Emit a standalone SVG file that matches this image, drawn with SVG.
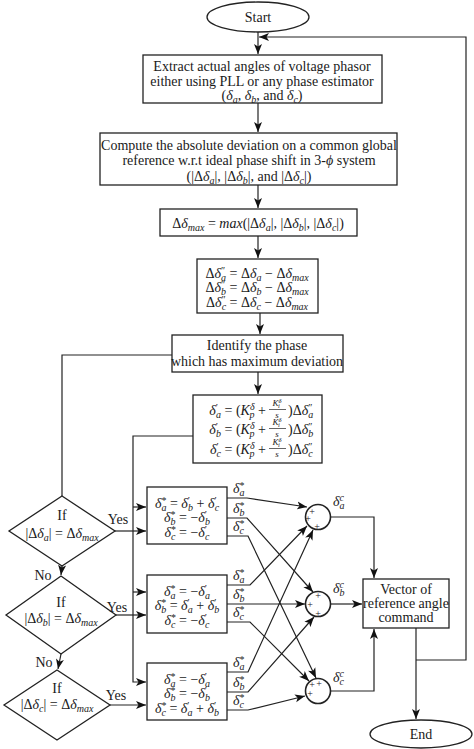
<svg xmlns="http://www.w3.org/2000/svg" width="474" height="749" viewBox="0 0 474 749">
<style>
text{font-family:"Liberation Serif","Times New Roman",serif;font-size:14px;fill:#1a1a1a}
.c{text-anchor:middle}
.i{font-style:italic}
.s{font-size:10px}
.f{font-size:9px}
.pl{font-size:10px;text-anchor:middle}
.box{fill:#fff;stroke:#222;stroke-width:1.3}
.sum{fill:#fff;stroke:#222;stroke-width:1.6}
.ln{fill:none;stroke:#222;stroke-width:1.2}
.bar{stroke:#222;stroke-width:0.7}
</style>
<defs>
<marker id="ah" markerWidth="12" markerHeight="10" refX="10" refY="5" orient="auto" markerUnits="userSpaceOnUse">
<path d="M0,1 L10,5 L0,9 L2.5,5 z" fill="#111"/>
</marker>
</defs>
<rect width="474" height="749" fill="#fff"/>

<g id="connectors">
<polyline class="ln" points="258,32 258,54" marker-end="url(#ah)"/>
<polyline class="ln" points="416,660 466,660 466,37 259,37" marker-end="url(#ah)"/>
<polyline class="ln" points="258,103 258,132" marker-end="url(#ah)"/>
<polyline class="ln" points="258,185 258,208" marker-end="url(#ah)"/>
<polyline class="ln" points="258,236 258,258" marker-end="url(#ah)"/>
<polyline class="ln" points="260,313 260,334" marker-end="url(#ah)"/>
<polyline class="ln" points="258,372 258,394" marker-end="url(#ah)"/>
<polyline class="ln" points="172,355 62,355 62,496"/>
<polyline class="ln" points="193,436 133,436 133,682 146,682" marker-end="url(#ah)"/>
<polyline class="ln" points="133,507 146,507" marker-end="url(#ah)"/>
<polyline class="ln" points="133,592 146,592" marker-end="url(#ah)"/>
<polyline class="ln" points="115,531 146,531" marker-end="url(#ah)"/>
<polyline class="ln" points="116,615 146,615" marker-end="url(#ah)"/>
<polyline class="ln" points="110,705 146,705" marker-end="url(#ah)"/>
<polyline class="ln" points="62,566 61,575" marker-end="url(#ah)"/>
<polyline class="ln" points="61,654 58,669" marker-end="url(#ah)"/>
<polyline class="ln" points="227,498 247,498 307,507" marker-end="url(#ah)"/>
<polyline class="ln" points="227,518 247,518 313,592" marker-end="url(#ah)"/>
<polyline class="ln" points="227,536 248,536 316,678" marker-end="url(#ah)"/>
<polyline class="ln" points="227,585 250,585 307,526" marker-end="url(#ah)"/>
<polyline class="ln" points="227,604 305,604" marker-end="url(#ah)"/>
<polyline class="ln" points="227,622 250,622 309,681" marker-end="url(#ah)"/>
<polyline class="ln" points="227,672 248,672 313,530" marker-end="url(#ah)"/>
<polyline class="ln" points="227,692 248,692 314,617" marker-end="url(#ah)"/>
<polyline class="ln" points="227,710 248,710 305,696" marker-end="url(#ah)"/>
<polyline class="ln" points="331,517 374,517 374,578" marker-end="url(#ah)"/>
<polyline class="ln" points="331,604 362,604" marker-end="url(#ah)"/>
<polyline class="ln" points="331,691 374,691 374,629" marker-end="url(#ah)"/>
<polyline class="ln" points="416,628 416,719" marker-end="url(#ah)"/>
</g>

<g id="start">
<ellipse class="box" cx="258" cy="17" rx="51" ry="15"/>
<text class="c" x="258" y="22">Start</text>
</g>

<g id="extract">
<rect class="box" x="143" y="55" width="239" height="48"/>
<text class="c" x="262" y="71">Extract actual angles of voltage phasor</text>
<text class="c" x="262" y="86">either using PLL or any phase estimator</text>
<text class="c" x="262" y="100">(<tspan class="i">δ</tspan><tspan class="s i" dy="3">a</tspan><tspan dy="-3">, </tspan><tspan class="i">δ</tspan><tspan class="s i" dy="3">b</tspan><tspan dy="-3">, and </tspan><tspan class="i">δ</tspan><tspan class="s i" dy="3">c</tspan><tspan dy="-3">)</tspan></text>
</g>

<g id="deviation">
<rect class="box" x="100" y="133" width="297" height="52"/>
<text class="c" x="249" y="150">Compute the absolute deviation on a common global</text>
<text class="c" x="249" y="165">reference w.r.t ideal phase shift in 3-<tspan class="i">ϕ</tspan> system</text>
<text class="c" x="249" y="181">(|Δ<tspan class="i">δ</tspan><tspan class="s i" dy="3">a</tspan><tspan dy="-3">|, |Δ</tspan><tspan class="i">δ</tspan><tspan class="s i" dy="3">b</tspan><tspan dy="-3">|, and |Δ</tspan><tspan class="i">δ</tspan><tspan class="s i" dy="3">c</tspan><tspan dy="-3">|)</tspan></text>
</g>

<g id="maxdev">
<rect class="box" x="160" y="209" width="197" height="27"/>
<text class="c" x="258" y="228">Δ<tspan class="i">δ</tspan><tspan class="s i" dy="3">max</tspan><tspan dy="-3"> = </tspan><tspan class="i">max</tspan>(|Δ<tspan class="i">δ</tspan><tspan class="s i" dy="3">a</tspan><tspan dy="-3">|, |Δ</tspan><tspan class="i">δ</tspan><tspan class="s i" dy="3">b</tspan><tspan dy="-3">|, |Δ</tspan><tspan class="i">δ</tspan><tspan class="s i" dy="3">c</tspan><tspan dy="-3">|)</tspan></text>
</g>

<g id="diffs">
<rect class="box" x="197" y="259" width="121" height="54"/>
<text class="c" x="257" y="278">Δ<tspan class="i">δ</tspan><tspan class="s" dy="-4">″</tspan><tspan class="s i" dx="-4" dy="7">a</tspan><tspan dy="-3"> = Δ</tspan><tspan class="i">δ</tspan><tspan class="s i" dy="3">a</tspan><tspan dy="-3"> − Δ</tspan><tspan class="i">δ</tspan><tspan class="s i" dy="3">max</tspan></text>
<text class="c" x="257" y="292">Δ<tspan class="i">δ</tspan><tspan class="s" dy="-4">″</tspan><tspan class="s i" dx="-4" dy="7">b</tspan><tspan dy="-3"> = Δ</tspan><tspan class="i">δ</tspan><tspan class="s i" dy="3">b</tspan><tspan dy="-3"> − Δ</tspan><tspan class="i">δ</tspan><tspan class="s i" dy="3">max</tspan></text>
<text class="c" x="257" y="307">Δ<tspan class="i">δ</tspan><tspan class="s" dy="-4">″</tspan><tspan class="s i" dx="-4" dy="7">c</tspan><tspan dy="-3"> = Δ</tspan><tspan class="i">δ</tspan><tspan class="s i" dy="3">c</tspan><tspan dy="-3"> − Δ</tspan><tspan class="i">δ</tspan><tspan class="s i" dy="3">max</tspan></text>
</g>

<g id="identify">
<rect class="box" x="172" y="335" width="171" height="37"/>
<text class="c" x="257" y="350">Identify the phase</text>
<text class="c" x="257" y="366">which has maximum deviation</text>
</g>

<g id="pi">
<rect class="box" x="193" y="395" width="129" height="68"/>
<text x="266" y="415" text-anchor="end"><tspan class="i">δ</tspan><tspan class="s" dy="-4">′</tspan><tspan class="s i" dx="-2" dy="7">a</tspan><tspan dy="-3"> = (</tspan><tspan class="i">K</tspan><tspan class="s i" dy="-5">δ</tspan><tspan class="s i" dx="-5" dy="8">p</tspan><tspan dy="-3"> +</tspan></text>
<text class="c f" x="277" y="406"><tspan class="i">K</tspan><tspan class="i" font-size="6.5" dy="-3">δ</tspan><tspan class="i" font-size="6.5" dx="-3.5" dy="5">i</tspan></text>
<line class="bar" x1="269" y1="409.5" x2="286" y2="409.5"/>
<text class="c f i" x="277" y="417.5">s</text>
<text x="288" y="415">)Δ<tspan class="i">δ</tspan><tspan class="s" dy="-4">″</tspan><tspan class="s i" dx="-4" dy="7">a</tspan></text>

<text x="266" y="434" text-anchor="end"><tspan class="i">δ</tspan><tspan class="s" dy="-4">′</tspan><tspan class="s i" dx="-2" dy="7">b</tspan><tspan dy="-3"> = (</tspan><tspan class="i">K</tspan><tspan class="s i" dy="-5">δ</tspan><tspan class="s i" dx="-5" dy="8">p</tspan><tspan dy="-3"> +</tspan></text>
<text class="c f" x="277" y="425"><tspan class="i">K</tspan><tspan class="i" font-size="6.5" dy="-3">δ</tspan><tspan class="i" font-size="6.5" dx="-3.5" dy="5">i</tspan></text>
<line class="bar" x1="269" y1="428.5" x2="286" y2="428.5"/>
<text class="c f i" x="277" y="436.5">s</text>
<text x="288" y="434">)Δ<tspan class="i">δ</tspan><tspan class="s" dy="-4">″</tspan><tspan class="s i" dx="-4" dy="7">b</tspan></text>

<text x="266" y="454" text-anchor="end"><tspan class="i">δ</tspan><tspan class="s" dy="-4">′</tspan><tspan class="s i" dx="-2" dy="7">c</tspan><tspan dy="-3"> = (</tspan><tspan class="i">K</tspan><tspan class="s i" dy="-5">δ</tspan><tspan class="s i" dx="-5" dy="8">p</tspan><tspan dy="-3"> +</tspan></text>
<text class="c f" x="277" y="445"><tspan class="i">K</tspan><tspan class="i" font-size="6.5" dy="-3">δ</tspan><tspan class="i" font-size="6.5" dx="-3.5" dy="5">i</tspan></text>
<line class="bar" x1="269" y1="448.5" x2="286" y2="448.5"/>
<text class="c f i" x="277" y="456.5">s</text>
<text x="288" y="454">)Δ<tspan class="i">δ</tspan><tspan class="s" dy="-4">″</tspan><tspan class="s i" dx="-4" dy="7">c</tspan></text>
</g>

<g id="cond-a">
<polygon class="box" points="62,496 115,531 62,566 9,531"/>
<text class="c" x="62" y="520">If</text>
<text class="c" x="62" y="538">|Δ<tspan class="i">δ</tspan><tspan class="s i" dy="3">a</tspan><tspan dy="-3">| = Δ</tspan><tspan class="i">δ</tspan><tspan class="s i" dy="3">max</tspan></text>
<text class="c" x="118" y="524">Yes</text>
<text class="c" x="43" y="580">No</text>
</g>

<g id="cond-b">
<polygon class="box" points="61,576 116,615 61,654 6,615"/>
<text class="c" x="61" y="607">If</text>
<text class="c" x="61" y="623">|Δ<tspan class="i">δ</tspan><tspan class="s i" dy="3">b</tspan><tspan dy="-3">| = Δ</tspan><tspan class="i">δ</tspan><tspan class="s i" dy="3">max</tspan></text>
<text class="c" x="117" y="612">Yes</text>
<text class="c" x="44" y="667">No</text>
</g>

<g id="cond-c">
<polygon class="box" points="57,670 110,705 57,740 4,705"/>
<text class="c" x="57" y="693">If</text>
<text class="c" x="57" y="709">|Δ<tspan class="i">δ</tspan><tspan class="s i" dy="3">c</tspan><tspan dy="-3">| = Δ</tspan><tspan class="i">δ</tspan><tspan class="s i" dy="3">max</tspan></text>
<text class="c" x="116" y="700">Yes</text>
</g>

<g id="case-a">
<rect class="box" x="147" y="487" width="80" height="57"/>
<text class="c" x="187" y="508"><tspan class="i">δ</tspan><tspan class="s" dy="-4">*</tspan><tspan class="s i" dx="-5" dy="7">a</tspan><tspan dy="-3"> = </tspan><tspan class="i">δ</tspan><tspan class="s" dy="-4">′</tspan><tspan class="s i" dx="-2" dy="7">b</tspan><tspan dy="-3"> + </tspan><tspan class="i">δ</tspan><tspan class="s" dy="-4">′</tspan><tspan class="s i" dx="-2" dy="7">c</tspan></text>
<text class="c" x="187" y="522"><tspan class="i">δ</tspan><tspan class="s" dy="-4">*</tspan><tspan class="s i" dx="-5" dy="7">b</tspan><tspan dy="-3"> = −</tspan><tspan class="i">δ</tspan><tspan class="s" dy="-4">′</tspan><tspan class="s i" dx="-2" dy="7">b</tspan></text>
<text class="c" x="187" y="537"><tspan class="i">δ</tspan><tspan class="s" dy="-4">*</tspan><tspan class="s i" dx="-5" dy="7">c</tspan><tspan dy="-3"> = −</tspan><tspan class="i">δ</tspan><tspan class="s" dy="-4">′</tspan><tspan class="s i" dx="-2" dy="7">c</tspan></text>
<text x="233" y="493"><tspan class="i">δ</tspan><tspan class="s" dy="-4">*</tspan><tspan class="s i" dx="-5" dy="7">a</tspan></text>
<text x="233" y="513"><tspan class="i">δ</tspan><tspan class="s" dy="-4">*</tspan><tspan class="s i" dx="-5" dy="7">b</tspan></text>
<text x="233" y="531"><tspan class="i">δ</tspan><tspan class="s" dy="-4">*</tspan><tspan class="s i" dx="-5" dy="7">c</tspan></text>
</g>

<g id="case-b">
<rect class="box" x="147" y="575" width="80" height="58"/>
<text class="c" x="187" y="596"><tspan class="i">δ</tspan><tspan class="s" dy="-4">*</tspan><tspan class="s i" dx="-5" dy="7">a</tspan><tspan dy="-3"> = −</tspan><tspan class="i">δ</tspan><tspan class="s" dy="-4">′</tspan><tspan class="s i" dx="-2" dy="7">a</tspan></text>
<text class="c" x="187" y="610"><tspan class="i">δ</tspan><tspan class="s" dy="-4">*</tspan><tspan class="s i" dx="-5" dy="7">b</tspan><tspan dy="-3"> = </tspan><tspan class="i">δ</tspan><tspan class="s" dy="-4">′</tspan><tspan class="s i" dx="-2" dy="7">a</tspan><tspan dy="-3"> + </tspan><tspan class="i">δ</tspan><tspan class="s" dy="-4">′</tspan><tspan class="s i" dx="-2" dy="7">b</tspan></text>
<text class="c" x="187" y="625"><tspan class="i">δ</tspan><tspan class="s" dy="-4">*</tspan><tspan class="s i" dx="-5" dy="7">c</tspan><tspan dy="-3"> = −</tspan><tspan class="i">δ</tspan><tspan class="s" dy="-4">′</tspan><tspan class="s i" dx="-2" dy="7">c</tspan></text>
<text x="233" y="580"><tspan class="i">δ</tspan><tspan class="s" dy="-4">*</tspan><tspan class="s i" dx="-5" dy="7">a</tspan></text>
<text x="233" y="599"><tspan class="i">δ</tspan><tspan class="s" dy="-4">*</tspan><tspan class="s i" dx="-5" dy="7">b</tspan></text>
<text x="233" y="617"><tspan class="i">δ</tspan><tspan class="s" dy="-4">*</tspan><tspan class="s i" dx="-5" dy="7">c</tspan></text>
</g>

<g id="case-c">
<rect class="box" x="147" y="663" width="80" height="57"/>
<text class="c" x="187" y="684"><tspan class="i">δ</tspan><tspan class="s" dy="-4">*</tspan><tspan class="s i" dx="-5" dy="7">a</tspan><tspan dy="-3"> = −</tspan><tspan class="i">δ</tspan><tspan class="s" dy="-4">′</tspan><tspan class="s i" dx="-2" dy="7">a</tspan></text>
<text class="c" x="187" y="698"><tspan class="i">δ</tspan><tspan class="s" dy="-4">*</tspan><tspan class="s i" dx="-5" dy="7">b</tspan><tspan dy="-3"> = −</tspan><tspan class="i">δ</tspan><tspan class="s" dy="-4">′</tspan><tspan class="s i" dx="-2" dy="7">b</tspan></text>
<text class="c" x="187" y="713"><tspan class="i">δ</tspan><tspan class="s" dy="-4">*</tspan><tspan class="s i" dx="-5" dy="7">c</tspan><tspan dy="-3"> = </tspan><tspan class="i">δ</tspan><tspan class="s" dy="-4">′</tspan><tspan class="s i" dx="-2" dy="7">a</tspan><tspan dy="-3"> + </tspan><tspan class="i">δ</tspan><tspan class="s" dy="-4">′</tspan><tspan class="s i" dx="-2" dy="7">b</tspan></text>
<text x="233" y="667"><tspan class="i">δ</tspan><tspan class="s" dy="-4">*</tspan><tspan class="s i" dx="-5" dy="7">a</tspan></text>
<text x="233" y="687"><tspan class="i">δ</tspan><tspan class="s" dy="-4">*</tspan><tspan class="s i" dx="-5" dy="7">b</tspan></text>
<text x="233" y="705"><tspan class="i">δ</tspan><tspan class="s" dy="-4">*</tspan><tspan class="s i" dx="-5" dy="7">c</tspan></text>
</g>

<g id="sum-a">
<circle class="sum" cx="318" cy="517" r="12.5"/>
<text class="pl" x="312" y="514.5">+</text>
<text class="pl" x="308" y="521.5">+</text>
<text class="pl" x="317" y="529.5">+</text>
<text x="333" y="506"><tspan class="i">δ</tspan><tspan class="s i" dy="-5">c</tspan><tspan class="s i" dx="-4.5" dy="8">a</tspan></text>
</g>

<g id="sum-b">
<circle class="sum" cx="318" cy="604" r="12.5"/>
<text class="pl" x="318" y="598.5">+</text>
<text class="pl" x="310" y="607.5">+</text>
<text class="pl" x="318" y="616.5">+</text>
<text x="333" y="593"><tspan class="i">δ</tspan><tspan class="s i" dy="-5">c</tspan><tspan class="s i" dx="-4.5" dy="8">b</tspan></text>
</g>

<g id="sum-c">
<circle class="sum" cx="318" cy="691" r="12.5"/>
<text class="pl" x="312" y="687.5">+</text>
<text class="pl" x="319" y="686.5">+</text>
<text class="pl" x="310" y="696.5">+</text>
<text x="333" y="682"><tspan class="i">δ</tspan><tspan class="s i" dy="-5">c</tspan><tspan class="s i" dx="-4.5" dy="8">c</tspan></text>
</g>

<g id="vector">
<rect class="box" x="363" y="579" width="86" height="49"/>
<text class="c" x="406" y="594">Vector of</text>
<text class="c" x="406" y="608">reference angle</text>
<text class="c" x="406" y="622">command</text>
</g>

<g id="end">
<ellipse class="box" cx="421" cy="734" rx="51" ry="14"/>
<text class="c" x="421" y="739">End</text>
</g>
</svg>
